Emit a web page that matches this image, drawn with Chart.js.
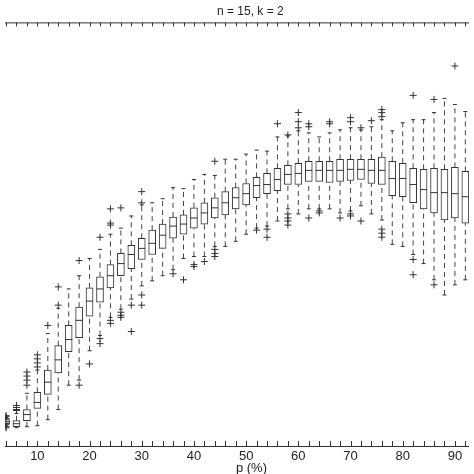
<!DOCTYPE html>
<html>
<head>
<meta charset="utf-8">
<script src="https://cdn.jsdelivr.net/npm/chart.js@4/dist/chart.umd.min.js"></script>
<style>
    html, body { margin: 0; padding: 0; background: #fff; }
    #box { width: 474px; height: 474px; }
</style>
</head>
<body>
<div id="box"><canvas id="graf-box" width="474" height="474"></canvas></div>
<script>
// posicoes dos boxes (p em %)
var pValues = [4, 6, 8, 10, 12, 14, 16, 18, 20, 22, 24, 26, 28, 30, 32, 34, 36, 38, 40, 42, 44, 46,
    48, 50, 52, 54, 56, 58, 60, 62, 64, 66, 68, 70, 72, 74, 76, 78, 80, 82, 84, 86, 88, 90, 92]

// estatisticas de cada box (eixo y sem escala visivel)
var lowerWhisker = [5, 4.5, 4.75, 5, 6.5, 9, 15, 16.25, 23.5, 27.25, 31.75, 33.75, 36.25, 39.5, 40.75, 42,
    43.5, 46.25, 46.75, 46.75, 49.25, 49.25, 50.5, 52.25, 53.75, 54.25, 55.5, 58.5, 57.25, 58.5, 58.5, 58.5,
    57.5, 58, 59.25, 57.25, 55.75, 49.75, 49.25, 47.25, 45, 41, 37.25, 39.75, 41]
var q1 = [5.5, 4.75, 6.25, 9.25, 12.75, 18, 23.25, 26.75, 32, 35.5, 39, 42, 43.75, 46, 47.25, 48.75,
    51.25, 52.25, 53.75, 54.75, 56.25, 57, 58.5, 59.5, 61.25, 62.25, 63, 64.5, 64.5, 65.25, 65.25, 65,
    65.25, 65.5, 65.75, 64.75, 64.5, 61.75, 61.5, 60, 58.5, 57.5, 55.75, 56.25, 55]
var median = [6, 5.5, 7.75, 10.75, 15.75, 21.25, 26.25, 31, 35.75, 38.75, 42, 45, 47.25, 48.75, 50, 52,
    54.25, 54.75, 56.25, 57.5, 58.75, 60, 61.25, 62.25, 64.25, 64.5, 65.75, 67, 67.25, 68, 68, 68,
    68, 68.25, 68.25, 68, 68, 66, 66, 64.5, 63.25, 62.5, 62.5, 62.25, 61.5]
var q3 = [6.5, 6.25, 9, 13.25, 18.75, 24.75, 29.75, 34.25, 39, 41.75, 44.75, 47.5, 49.5, 51.25, 53.25, 54.75,
    56.5, 57, 58.75, 60, 61.25, 62.75, 63.75, 64.75, 66.25, 67.25, 68.5, 69.25, 69.75, 70.25, 70.25, 70.25,
    70.75, 70.75, 70.75, 70.75, 71.25, 70.25, 69.75, 68.5, 68.25, 68.5, 68.25, 68.75, 67.75]
var upperWhisker = [7, 8, 13, 18.75, 27.75, 34, 38.75, 42, 46.25, 48.5, 52.25, 53.75, 56.75, 59.5, 60, 61,
    63.75, 63.5, 65.75, 67, 66.75, 70.75, 70.75, 72, 73, 72.75, 76.25, 76.5, 77.75, 77.25, 76.25, 77.25,
    78, 78.5, 78, 78.75, 80.5, 77.75, 79.75, 80.5, 80.5, 82.25, 85.75, 84.25, 82.5]
var outliers = [
    [7.5, 7.25, 6.75, 5.25, 4.75, 4.5], [10, 9.5, 9, 8.75], [18.25, 17.25, 16.25, 15], [22.5, 21.5, 20.5, 19.5],
    [29.75], [34.75, 39.25], [], [45.75, 15], [20.25], [51.5, 26.5, 25.25], [58.5, 55, 54.5, 31, 30.25],
    [58.75, 33, 32.25, 31.75], [34.75, 28.25], [62.75, 60, 37.25, 34.75], [], [], [42.5], [41], [44.75, 44.25],
    [45.5], [70.25, 48.5, 47.5, 46.75], [], [], [], [53.25], [53.5, 51.5], [79.5], [76.75, 57.25, 56.25, 55.5, 54.5],
    [82.25, 80, 78.5], [79.5, 78.75, 56.25], [58, 57.5], [80, 79.5], [56.25], [81, 80, 57.25, 56.75],
    [78.5, 55.5], [80.25], [83, 82.25, 81.25, 53.5, 52.5, 51.5], [], [], [86.5, 46, 42.25], [], [85.5, 39.75],
    [], [93.75], []
]

// o grafico original era mais largo, entao os titulos ficam um pouco a direita do centro
var recuo = '\u00a0\u00a0\u00a0\u00a0\u00a0\u00a0\u00a0\u00a0'
var tituloGrafico = recuo + 'n = 15, k = 2'
var tituloEixoX = recuo + 'p (%)'

// desenha os tracinhos internos estilo matlab em cima e embaixo
var eixosMatlab = {
    id: 'eixosMatlab',
    afterDraw: function(chart){
        var ctx = chart.ctx
        var area = chart.chartArea
        var xs = chart.scales.x
        ctx.save()
        ctx.strokeStyle = '#333'
        ctx.lineWidth = 1
        ctx.beginPath()
        ctx.moveTo(area.left, area.top + 0.5)
        ctx.lineTo(area.right, area.top + 0.5)
        ctx.moveTo(area.left, area.bottom + 0.5)
        ctx.lineTo(area.right, area.bottom + 0.5)
        xs.ticks.forEach(function(t){
            var px = Math.round(xs.getPixelForValue(t.value)) + 0.5
            ctx.moveTo(px, area.top)
            ctx.lineTo(px, area.top + 4)
            ctx.moveTo(px, area.bottom)
            ctx.lineTo(px, area.bottom - 5)
        })
        ctx.stroke()
        ctx.restore()
    }
}

function gerarGraficoBox(){
    var boxes = [], medianas = [], bigodes = [], pontas = [], pontosFora = []

    // monta os datasets a partir dos arrays
    pValues.forEach(function(p, i){
        boxes.push({x: p, y: [q1[i], q3[i]]})
        medianas.push({x: p, y: median[i]})
        bigodes.push({x: p, y: q3[i]}, {x: p, y: upperWhisker[i]}, {x: p, y: null})
        bigodes.push({x: p, y: lowerWhisker[i]}, {x: p, y: q1[i]}, {x: p, y: null})
        pontas.push({x: p, y: upperWhisker[i]}, {x: p, y: lowerWhisker[i]})
        outliers[i].forEach(function(v){
            pontosFora.push({x: p, y: v})
        })
    })

    new Chart(document.getElementById('graf-box').getContext('2d'), {
        type: 'bar',
        data: {
            datasets: [
                {
                    type: 'line', data: bigodes, borderColor: '#444', borderWidth: 1,
                    borderDash: [5, 4], pointRadius: 0, spanGaps: false, order: 4
                },
                {
                    type: 'scatter', data: pontas, pointStyle: 'line', pointRadius: 2,
                    borderColor: '#333', borderWidth: 1, order: 3
                },
                {
                    type: 'bar', data: boxes, backgroundColor: '#fff', borderColor: '#333',
                    borderWidth: 1, borderSkipped: false, barThickness: 7, grouped: false, order: 2
                },
                {
                    type: 'scatter', data: medianas, pointStyle: 'line', pointRadius: 3.5,
                    borderColor: '#333', borderWidth: 1, order: 1
                },
                {
                    type: 'scatter', data: pontosFora, pointStyle: 'cross', pointRadius: 3.5,
                    borderColor: '#333', borderWidth: 1, order: 0
                }
            ]
        },
        options: {
            responsive: false,
            animation: false,
            devicePixelRatio: 1,
            layout: { padding: 0 },
            plugins: {
                legend: { display: false },
                tooltip: { enabled: false },
                title: {
                    display: true,
                    text: tituloGrafico,
                    color: '#222',
                    font: { family: 'Liberation Sans', size: 12, weight: 'normal' },
                    padding: { top: 4, bottom: 4 }
                }
            },
            scales: {
                x: {
                    type: 'linear',
                    min: 3.8,
                    max: 92.7,
                    offset: false,
                    grid: { display: false, drawTicks: false },
                    border: { display: false },
                    ticks: {
                        stepSize: 2,
                        includeBounds: false,
                        autoSkip: false,
                        maxRotation: 0,
                        padding: 4,
                        color: '#222',
                        font: { family: 'Liberation Sans', size: 13, lineHeight: 1 },
                        callback: function(v){ return v % 10 === 0 ? v : '' }
                    },
                    title: {
                        display: true,
                        text: tituloEixoX,
                        color: '#222',
                        font: { family: 'Liberation Sans', size: 13, lineHeight: 1 },
                        padding: { top: -5, bottom: -1 }
                    }
                },
                y: {
                    display: false,
                    min: 0,
                    max: 104.5
                }
            }
        },
        plugins: [eixosMatlab]
    })
}

gerarGraficoBox()
</script>
</body>
</html>
